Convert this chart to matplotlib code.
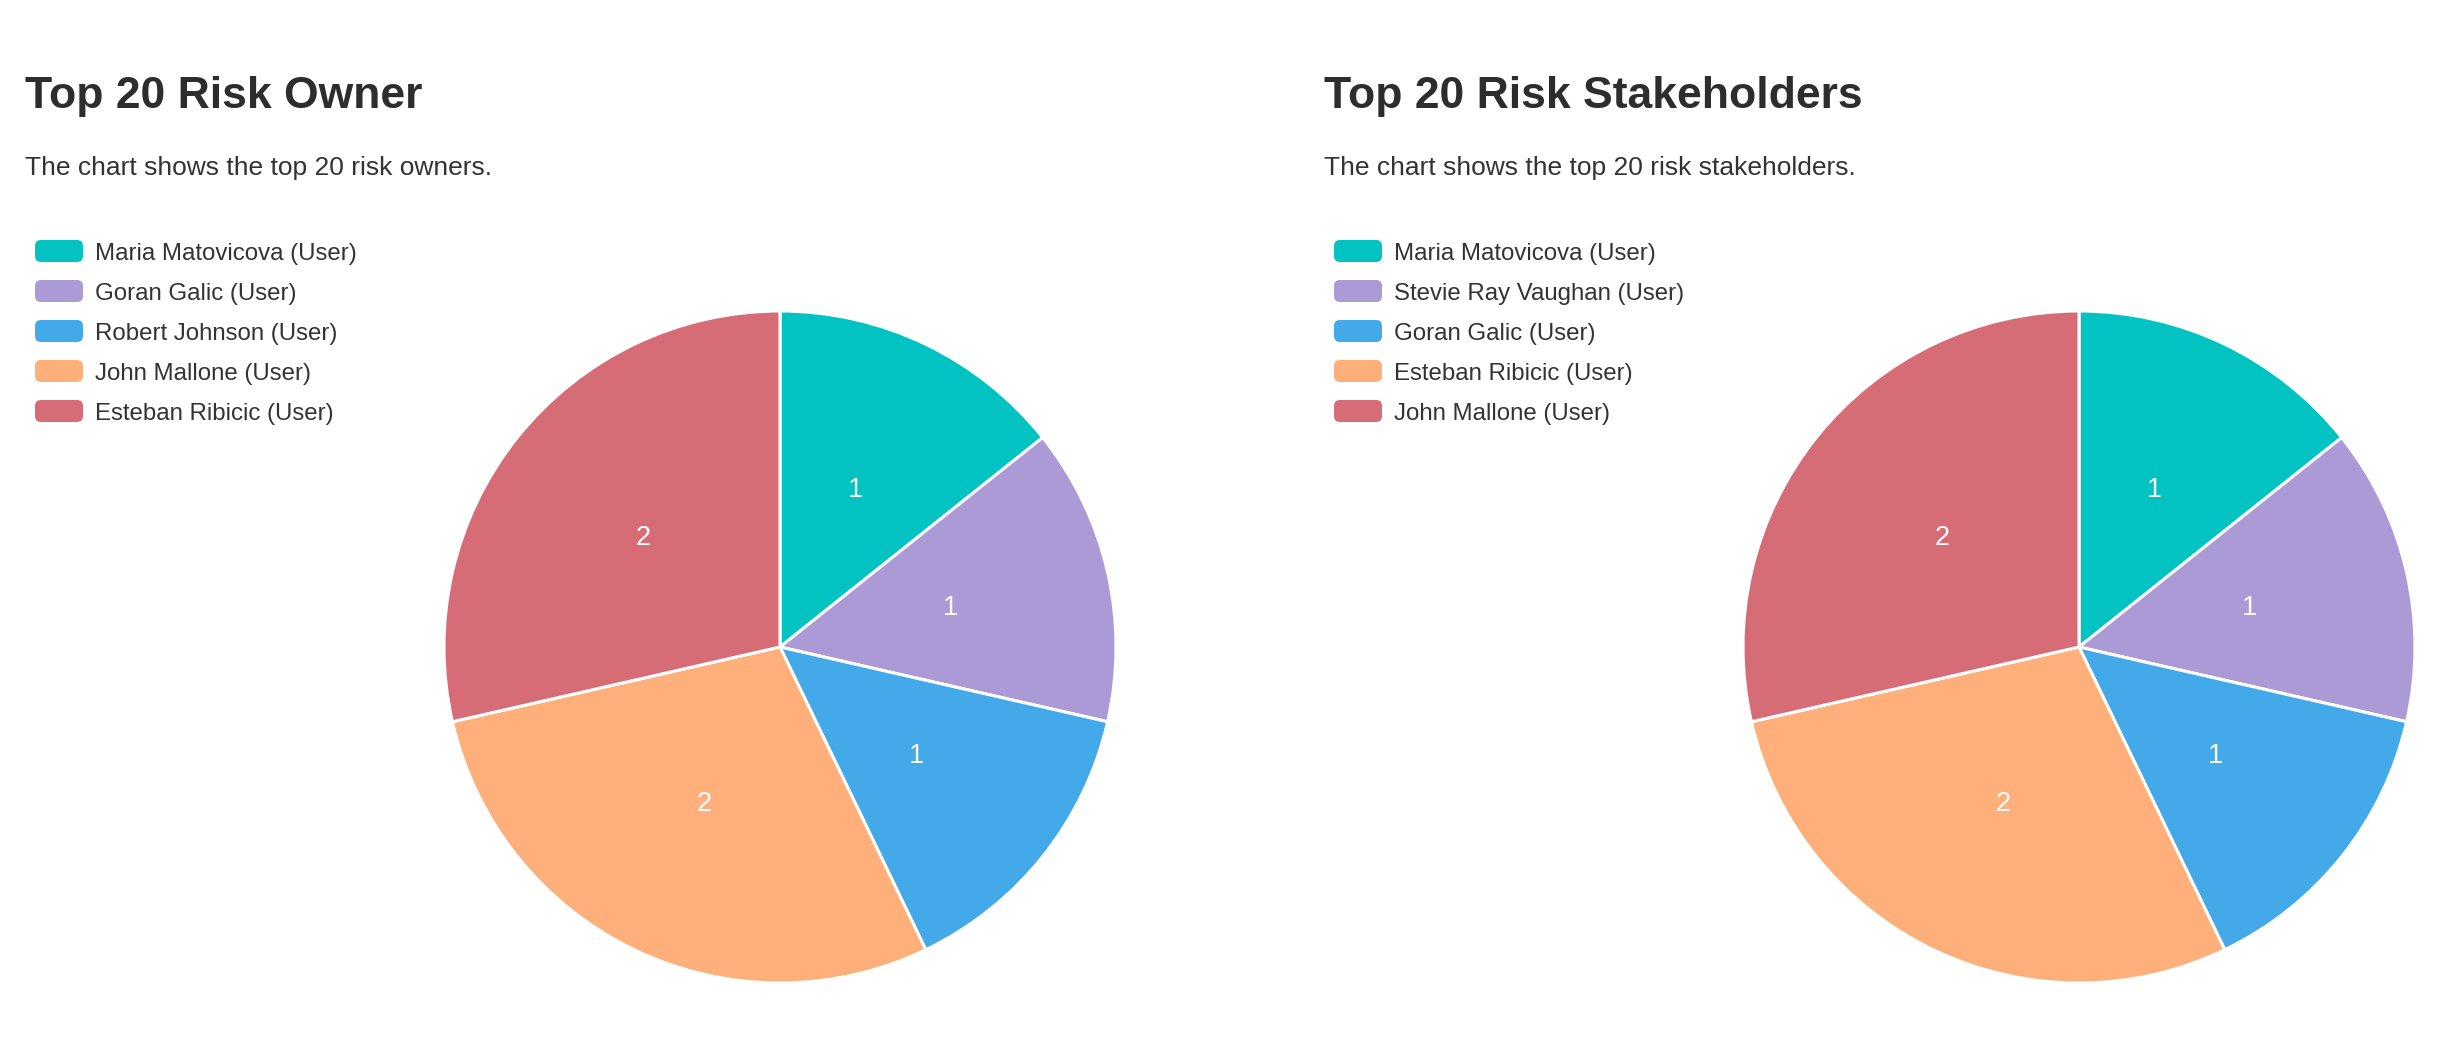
import matplotlib
matplotlib.use('Agg')
import matplotlib.pyplot as plt
from matplotlib.patches import FancyBboxPatch
from matplotlib.transforms import IdentityTransform

plt.rcParams['font.family'] = ['Liberation Sans', 'DejaVu Sans']

# data
owner_names = ['Maria Matovicova (User)', 'Goran Galic (User)', 'Robert Johnson (User)',
               'John Mallone (User)', 'Esteban Ribicic (User)']
owner_counts = [1, 1, 1, 2, 2]

stake_names = ['Maria Matovicova (User)', 'Stevie Ray Vaughan (User)', 'Goran Galic (User)',
               'Esteban Ribicic (User)', 'John Mallone (User)']
stake_counts = [1, 1, 1, 2, 2]

colors = ['#03C2C2', '#AC9AD6', '#43A9E8', '#FFB07A', '#D66C75']

W, H = 2454, 1050
fig = plt.figure(figsize=(W / 100, H / 100), dpi=100)
fig.patch.set_facecolor('white')


def fx(x):
    return x / W


def fy(y):
    return 1 - y / H


def panel(x0, title, subtitle, names, counts):
    # titles
    fig.text(fx(x0 + 25), fy(108), title, fontsize=32, fontweight='bold',
             color='#2d2d2d', va='baseline', ha='left')
    fig.text(fx(x0 + 25), fy(175), subtitle, fontsize=19,
             color='#333333', va='baseline', ha='left')

    # legend (rounded swatches)
    for i, (name, c) in enumerate(zip(names, colors)):
        top = 240 + i * 40
        box = FancyBboxPatch((x0 + 35, H - top - 22), 48, 22,
                             boxstyle='round,pad=0,rounding_size=6',
                             transform=IdentityTransform(),
                             facecolor=c, edgecolor='none')
        fig.patches.append(box)
        box.set_figure(fig)
        fig.text(fx(x0 + 95), fy(top + 20), name, fontsize=17.3,
                 color='#333333', va='baseline', ha='left')

    # pie
    cx, cy, r = x0 + 780, 647, 336
    ax = fig.add_axes([(cx - r) / W, (H - cy - r) / H, 2 * r / W, 2 * r / H])
    wedges, texts = ax.pie(counts, colors=colors, startangle=90, counterclock=False,
                           labels=[str(v) for v in counts], labeldistance=0.52,
                           radius=1,
                           wedgeprops=dict(edgecolor='white', linewidth=2.2, clip_on=False),
                           textprops=dict(color='white', fontsize=19.5))
    for t in texts:
        t.set_ha('center')
        t.set_va('center')
    ax.set_xlim(-1, 1)
    ax.set_ylim(-1, 1)
    ax.axis('off')


panel(0, 'Top 20 Risk Owner', 'The chart shows the top 20 risk owners.',
      owner_names, owner_counts)
panel(1299, 'Top 20 Risk Stakeholders', 'The chart shows the top 20 risk stakeholders.',
      stake_names, stake_counts)

fig.savefig('out.png', dpi=100, facecolor='white')
